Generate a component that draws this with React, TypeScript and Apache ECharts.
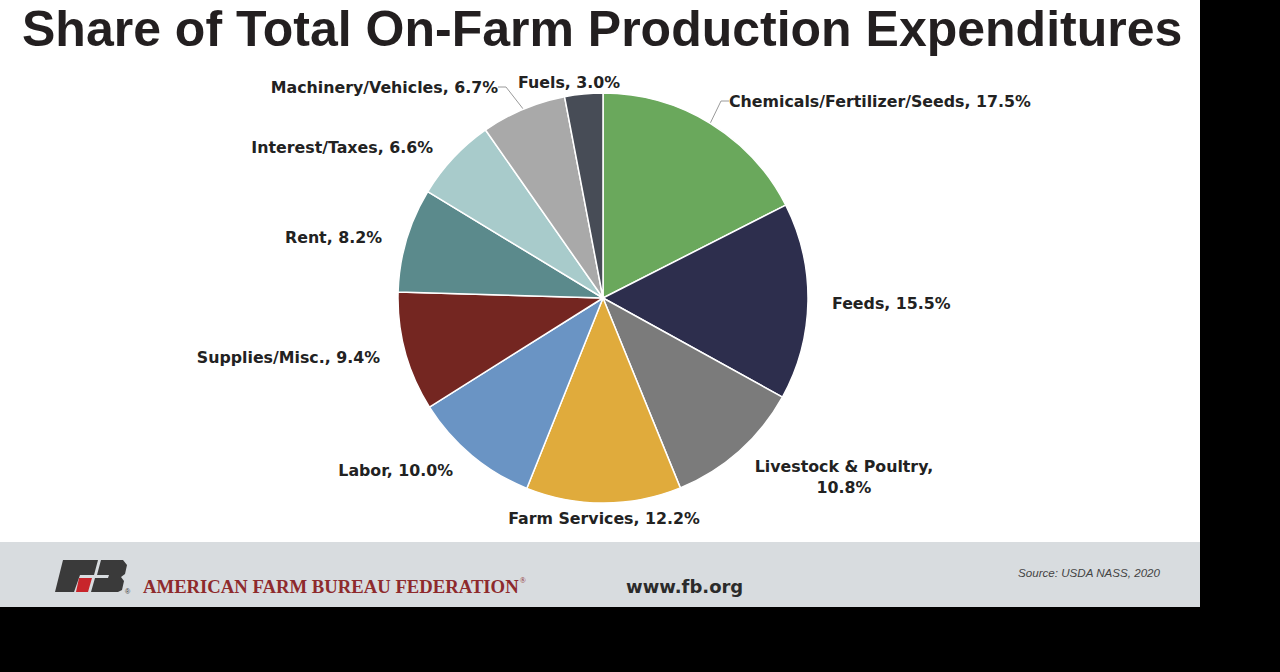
import React, { useEffect, useRef } from "react";
import * as echarts from "echarts";

const categories = [
  "Chemicals/Fertilizer/Seeds",
  "Feeds",
  "Livestock & Poultry",
  "Farm Services",
  "Labor",
  "Supplies/Misc.",
  "Rent",
  "Interest/Taxes",
  "Machinery/Vehicles",
  "Fuels",
];
const shares = [17.5, 15.5, 10.8, 12.2, 10.0, 9.4, 8.2, 6.6, 6.7, 3.0];
const sliceColors = [
  "#6aa85c",
  "#2d2e4d",
  "#7b7b7b",
  "#e0ab3c",
  "#6a94c4",
  "#742621",
  "#5b8a8c",
  "#a8cbcb",
  "#a9a9a9",
  "#474c56",
];
const title = "Share of Total On-Farm Production Expenditures";
const source = "Source: USDA NASS, 2020";
const orgName = "AMERICAN FARM BUREAU FEDERATION";
const website = "www.fb.org";

// label anchor layout (x, y, align) per slice
const labelPos: [number, number, string][] = [
  [729, 101, "left"],
  [832, 303, "left"],
  [844, 477, "center"],
  [604, 518, "center"],
  [453, 470, "right"],
  [380, 357, "right"],
  [382, 237, "right"],
  [433, 147, "right"],
  [498, 87, "right"],
  [518, 82, "left"],
];
const showLine = [true, false, false, false, false, false, false, false, true, false];

export default function App() {
  const ref = useRef<HTMLDivElement>(null);
  useEffect(() => {
    if (!ref.current) return;
    const chart = echarts.init(ref.current, null, { renderer: "svg" });
    const data = categories.map((name, i) => ({
      name,
      value: shares[i],
      itemStyle: { color: sliceColors[i] },
      label: {
        formatter:
          i === 2
            ? (p: any) => `${p.name},\n${Number(p.value).toFixed(1)}%`
            : (p: any) => `${p.name}, ${Number(p.value).toFixed(1)}%`,
      },
      labelLine: { show: showLine[i] },
    }));
    chart.setOption({
      animation: false,
      backgroundColor: "#000000",
      graphic: [
        { type: "rect", z: -10, shape: { x: 0, y: 0, width: 1200, height: 542 }, style: { fill: "#ffffff" } },
        { type: "rect", z: -10, shape: { x: 0, y: 542, width: 1200, height: 65 }, style: { fill: "#d8dcdf" } },
        {
          type: "text",
          x: 22,
          y: 29,
          style: {
            text: title,
            fill: "#231f20",
            font: 'bold 50px "Liberation Sans", Arial, sans-serif',
            textVerticalAlign: "middle",
          },
        },
        {
          type: "polygon",
          shape: { points: [[63, 560], [98, 560], [94, 575], [80, 575], [74, 592], [55, 592]] },
          style: { fill: "#3a3a3a" },
        },
        {
          type: "polygon",
          shape: { points: [[79, 578], [92, 578], [88, 592], [76, 592]] },
          style: { fill: "#c8252b" },
        },
        {
          type: "polygon",
          shape: {
            points: [
              [101, 560], [123, 560], [127, 565], [125, 574], [121, 577], [124, 581],
              [122, 590], [118, 592], [91, 592], [95, 578], [108, 578], [109, 575], [97, 575],
            ],
          },
          style: { fill: "#3a3a3a" },
        },
        {
          type: "text",
          x: 125,
          y: 591,
          style: { text: "®", fill: "#3a3a3a", font: '7px "Liberation Sans", sans-serif', textVerticalAlign: "middle" },
        },
        {
          type: "text",
          x: 143,
          y: 586,
          style: {
            text: "{a|" + orgName + "}{r|®}",
            textVerticalAlign: "middle",
            rich: {
              a: {
                fill: "#8e2a2c",
                fontFamily: '"Liberation Serif", "DejaVu Serif", serif',
                fontWeight: "bold",
                fontSize: 18.7,
              },
              r: {
                fill: "#8e2a2c",
                fontFamily: '"Liberation Serif", serif',
                fontSize: 8,
                verticalAlign: "top",
                padding: [0, 0, 10, 1],
              },
            },
          },
        },
        {
          type: "text",
          x: 626,
          y: 586,
          style: {
            text: website,
            fill: "#2b2b2b",
            font: 'bold 18px "DejaVu Sans", Arial, sans-serif',
            textVerticalAlign: "middle",
          },
        },
        {
          type: "text",
          x: 1018,
          y: 572,
          style: {
            text: source,
            fill: "#444444",
            font: 'italic 11.6px "Liberation Sans", Arial, sans-serif',
            textVerticalAlign: "middle",
          },
        },
      ],
      series: [
        {
          type: "pie",
          center: [603, 298],
          radius: 205,
          startAngle: 90,
          clockwise: true,
          data,
          itemStyle: { borderColor: "#ffffff", borderWidth: 1.5 },
          label: {
            show: true,
            position: "outside",
            color: "#222222",
            fontFamily: '"DejaVu Sans", Arial, sans-serif',
            fontWeight: "bold",
            fontSize: 15.8,
            lineHeight: 21,
            align: "center",
          },
          labelLine: {
            show: true,
            length: 8,
            length2: 8,
            lineStyle: { color: "#9a9a9a", width: 1 },
          },
          labelLayout: (params: any) => {
            const p = labelPos[params.dataIndex];
            return { x: p[0], y: p[1], align: p[2], verticalAlign: "middle" };
          },
          emphasis: { disabled: true },
        },
      ],
    });
    return () => chart.dispose();
  }, []);
  return (
    <div
      ref={ref}
      style={{ position: "absolute", left: 0, top: 0, width: 1280, height: 672 }}
    />
  );
}
